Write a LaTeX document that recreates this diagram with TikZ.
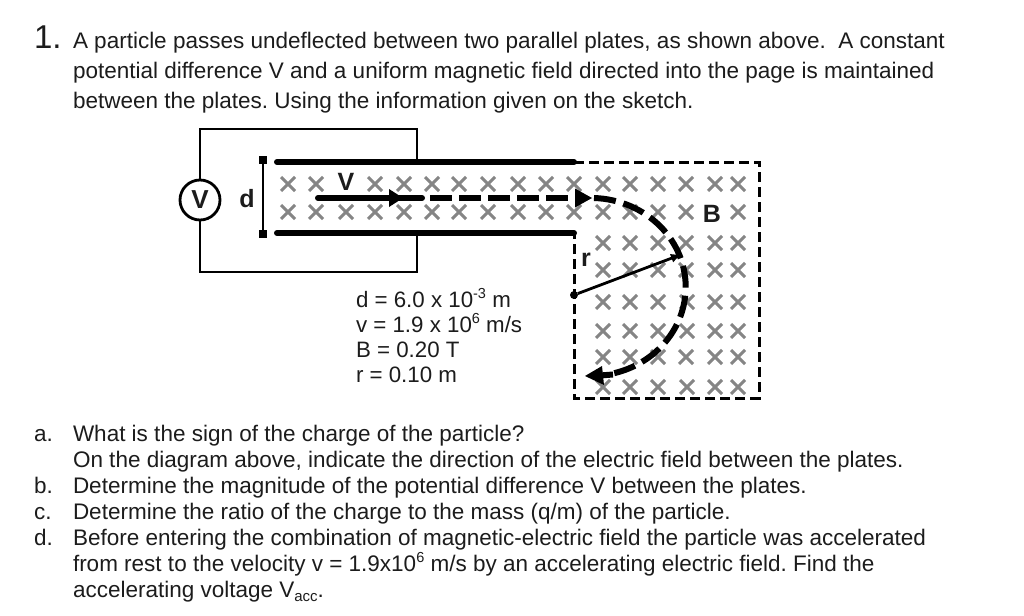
\documentclass[tikz,border=0pt]{standalone}
\usepackage{fontspec}
\setmainfont{Liberation Sans}
\usetikzlibrary{arrows.meta,shapes.misc}
\definecolor{ink}{HTML}{1C1C1C}
\definecolor{crossgray}{HTML}{858585}
\newcommand{\supr}[1]{\raisebox{0.4em}{\fontsize{14.5}{14.5}\selectfont #1}}
\newcommand{\subr}[1]{\raisebox{-0.18em}{\fontsize{15}{15}\selectfont #1}}
\frenchspacing
\tikzset{
  every node/.style={inner sep=0pt,outer sep=0pt,text=ink},
  txt/.style={anchor=base west,font=\fontsize{22.5}{26}\selectfont},
  data/.style={anchor=base west,font=\fontsize{22.3}{24}\selectfont},
  lab/.style={anchor=center,font=\fontsize{25}{26}\selectfont\bfseries},
  wire/.style={draw=black,line width=2.8pt},
  plate/.style={draw=black,line width=6pt,line cap=round},
  bdash/.style={draw=black,line width=3pt,dash pattern=on 10pt off 5pt},
  track/.style={draw=black,line width=6pt},
  xm/.style={cross out,draw=crossgray,line width=3pt,minimum size=14pt},
  endcap/.style={fill=black,minimum size=8pt}
}
\begin{document}
\begin{tikzpicture}[x=1pt,y=-1pt]
\useasboundingbox (0,0) rectangle (1024,615);
\fill[white] (0,0) rectangle (1024,615);
% field crosses
\foreach \r/\cols in {
 184/{288,316,375,404,432,459,488,518,546,574,603,630,658,686,715,738},
 212/{288,316,346,375,404,432,459,488,518,546,574,603,630,658,686,738},
 243/{603,630,658,686,715,738},
 270/{603,630,658,686,715,738},
 302/{603,630,658,687,715,738},
 331/{603,630,658,687,715,738},
 357/{603,630,658,686,715,738},
 387/{603,630,658,687,715,738}}{
  \foreach \c in \cols { \node[xm] (x\r c\c) at (\c,\r) {}; }
}
% coordinates
\coordinate (pt0) at (277,162); \coordinate (pt1) at (574,162);
\coordinate (pb0) at (277,233); \coordinate (pb1) at (574,233);
\coordinate (wt) at (417,162); \coordinate (wb) at (417,233);
\coordinate (ct) at (417,129); \coordinate (cb) at (417,272);
\coordinate (bx1) at (759,162); \coordinate (bx2) at (759,398); \coordinate (bx3) at (574,398);
\node[circle,draw=black,line width=2.8pt,minimum size=40pt,fill=white,font=\fontsize{26}{26}\selectfont\bfseries] (vm) at (200,200) {V};
% circuit
\draw[wire] (vm.north) |- (ct) -- (wt);
\draw[wire] (vm.south) |- (cb) -- (wb);
% dashed region
\draw[bdash] (pt1) -- (bx1) -- (bx2) -- (bx3) -- (pb1);
% plates
\draw[plate] (pt0) -- (pt1);
\draw[plate] (pb0) -- (pb1);
% d bar
\node[endcap] (dt) at (263,160) {};
\node[endcap] (db) at (263,234) {};
\draw[draw=black,line width=2.8pt] (dt) -- (db);
\node[lab] (dl) at (247,199) {d};
\node[lab] (vl) at (346,182) {V};
\node[lab] (bl) at (712,214) {B};
\node[lab] (rl) at (586,260) {r};
% particle track
\coordinate (s0) at (318,198); \coordinate (s1) at (403,198); \coordinate (s2) at (422,198);
\coordinate (s3) at (430,198); \coordinate (s4) at (568,198); \coordinate (s5) at (592,198);
\draw[track,line cap=round] (s0) -- (s2);
\fill[black] (389,189) -- (s1) -- (389,207) -- cycle;
\draw[track,dash pattern=on 21.5pt off 7.5pt] (s3) -- (s4);
\fill[black] (575,188.5) -- (s5) -- (575,207.5) -- cycle;
\draw[track,dash pattern=on 22pt off 8pt] (594,198) arc[start angle=-88,end angle=78,x radius=95,y radius=89];
\draw[track] (613,374.5) -- (600,375.5);
\fill[black] (602,366) -- (585,376) -- (604,385) -- cycle;
% radius
\node[circle,fill=black,minimum size=8pt] (rc) at (574,295) {};
\coordinate (re) at (680,255);
\draw[black,line width=2.8pt,-{Triangle[length=9pt,width=8pt]}] (rc) -- (re);
% data
\node[data] (d1) at (356,307) {d = 6.0 x 10\supr{-3} m};
\node[data] (d2) at (356,332) {v = 1.9 x 10\supr{6} m/s};
\node[data] (d3) at (356,357) {B = 0.20 T};
\node[data] (d4) at (356,382) {r = 0.10 m};
% text
\node[anchor=base west,font=\fontsize{33}{33}\selectfont] (n1) at (34,49) {1.};
\node[txt] (t1) at (73,49) {A particle passes undeflected between two parallel plates, as shown above.\ \ A constant};
\node[txt] (t2) at (73,79) {potential difference V and a uniform magnetic field directed into the page is maintained};
\node[txt] (t3) at (73,109) {between the plates. Using the information given on the sketch.};
\node[txt] (la) at (34,441) {a.};
\node[txt] (a1) at (73,441) {What is the sign of the charge of the particle?};
\node[txt] (a2) at (73,467) {On the diagram above, indicate the direction of the electric field between the plates.};
\node[txt] (lb) at (34,493) {b.};
\node[txt] (b1) at (73,493) {Determine the magnitude of the potential difference V between the plates.};
\node[txt] (lc) at (34,519) {c.};
\node[txt] (c1) at (73,519) {Determine the ratio of the charge to the mass (q/m) of the particle.};
\node[txt] (ld) at (34,545) {d.};
\node[txt] (d5) at (73,545) {Before entering the combination of magnetic-electric field the particle was accelerated};
\node[txt] (d6) at (73,571) {from rest to the velocity v = 1.9x10\supr{6} m/s by an accelerating electric field. Find the};
\node[txt] (d7) at (73,597) {accelerating voltage V\subr{acc}.};
\end{tikzpicture}
\end{document}
